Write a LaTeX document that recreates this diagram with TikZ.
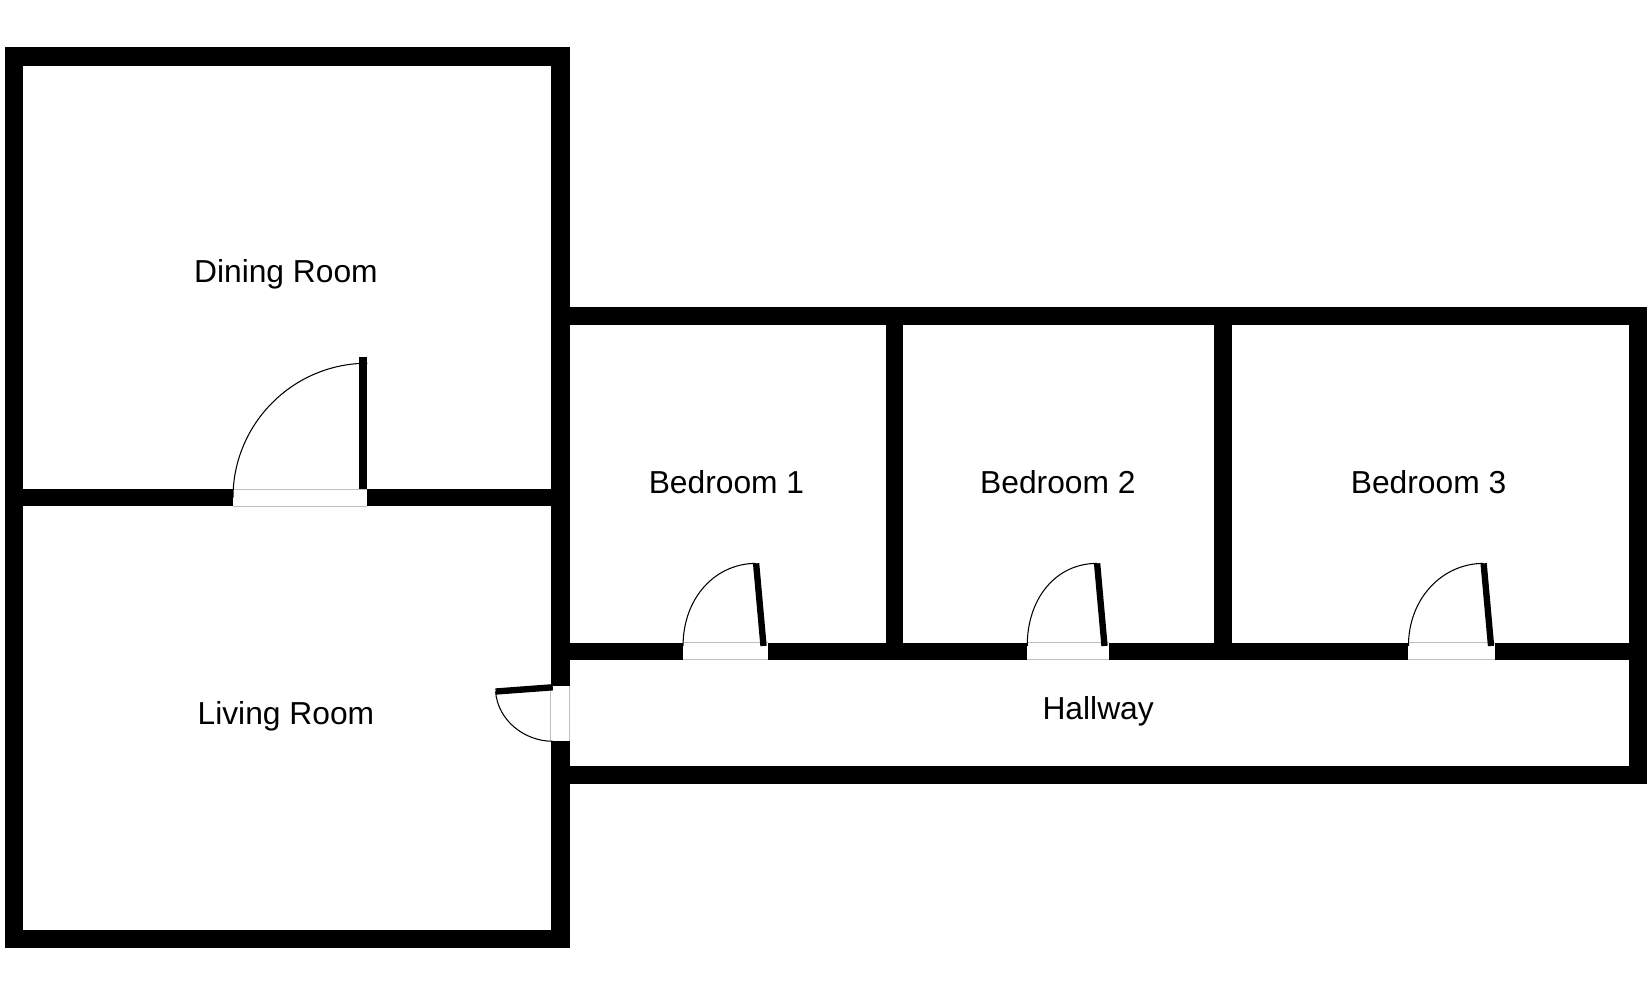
\documentclass[tikz,border=0pt]{standalone}
\usepackage{fontspec}
\setmainfont{Liberation Sans}
\begin{document}
\begin{tikzpicture}[x=1pt,y=-1pt,
  wall/.style={fill=black},
  leaf/.style={line width=6pt},
  swing/.style={line width=1pt},
  sill/.style={draw=gray!50,line width=0.6pt},
  lbl/.style={font=\fontsize{30}{30}\selectfont}]
\useasboundingbox (0,0) rectangle (1560,930);
% left block
\fill[wall] (5,44) rectangle (538,62);
\fill[wall] (5,878) rectangle (538,895);
\fill[wall] (5,44) rectangle (22,895);
\fill[wall] (520,44) rectangle (538,648);
\fill[wall] (520,700) rectangle (538,895);
% dining/living divider with door
\fill[wall] (5,462) rectangle (220,478);
\fill[wall] (347,462) rectangle (520,478);
\draw[sill] (220,462) -- (347,462) (220,478) -- (347,478);
\fill[wall] (339,337) rectangle (347,462);
\draw[swing] (220,470) arc[start angle=180,end angle=270,radius=127];
% right block
\fill[wall] (538,290) rectangle (1555,307);
\fill[wall] (538,723) rectangle (1555,740);
\fill[wall] (1538,290) rectangle (1555,740);
\fill[wall] (837,307) rectangle (853,607);
\fill[wall] (1146,307) rectangle (1163,607);
% hallway wall with doors
\fill[wall] (538,607) rectangle (645,623);
\fill[wall] (725,607) rectangle (970,623);
\fill[wall] (1047,607) rectangle (1330,623);
\fill[wall] (1412,607) rectangle (1538,623);
\foreach \a/\b in {645/725,970/1047,1330/1412}{
  \draw[sill] (\a,607) -- (\b,607) (\a,623) -- (\b,623);
  \draw[leaf] (\b-4,610) -- (\b-11,532);
  \draw[swing] (\a,610) .. controls (\a,565) and (\b-50,532) .. (\b-11,532);
}
% living room door
\draw[sill] (520,648) -- (520,700) (538,648) -- (538,700);
\draw[leaf] (522,649) -- (468,653);
\draw[swing] (468,653) .. controls (470,680) and (495,700) .. (522,700);
% labels
\node[lbl] (dr) at (270,259) {Dining Room};
\node[lbl] (lr) at (270,676) {Living Room};
\node[lbl] (b1) at (686,455) {Bedroom 1};
\node[lbl] (b2) at (999,455) {Bedroom 2};
\node[lbl] (b3) at (1349,455) {Bedroom 3};
\node[lbl] (hw) at (1037,672) {Hallway};
\end{tikzpicture}
\end{document}
